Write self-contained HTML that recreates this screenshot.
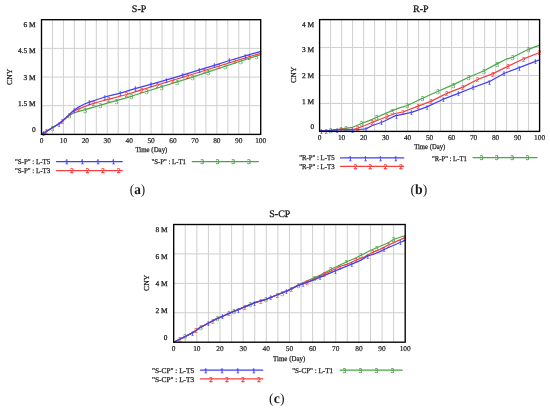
<!DOCTYPE html>
<html><head><meta charset="utf-8"><title>Figure</title>
<style>
html,body{margin:0;padding:0;background:#fff;}
body{width:550px;height:410px;overflow:hidden;}
svg{display:block;font-family:'Liberation Serif', 'Times New Roman', serif;text-rendering:geometricPrecision;}
</style></head>
<body>
<svg width="550" height="410" viewBox="0 0 550 410">
<rect width="550" height="410" fill="#fff"/>
<line x1="52.46" y1="19.7" x2="52.46" y2="134.4" stroke="#cfcfcf" stroke-width="1"/>
<line x1="63.42" y1="19.7" x2="63.42" y2="134.4" stroke="#cfcfcf" stroke-width="1"/>
<line x1="74.38" y1="19.7" x2="74.38" y2="134.4" stroke="#cfcfcf" stroke-width="1"/>
<line x1="85.34" y1="19.7" x2="85.34" y2="134.4" stroke="#cfcfcf" stroke-width="1"/>
<line x1="96.3" y1="19.7" x2="96.3" y2="134.4" stroke="#cfcfcf" stroke-width="1"/>
<line x1="107.26" y1="19.7" x2="107.26" y2="134.4" stroke="#cfcfcf" stroke-width="1"/>
<line x1="118.22" y1="19.7" x2="118.22" y2="134.4" stroke="#cfcfcf" stroke-width="1"/>
<line x1="129.18" y1="19.7" x2="129.18" y2="134.4" stroke="#cfcfcf" stroke-width="1"/>
<line x1="140.14" y1="19.7" x2="140.14" y2="134.4" stroke="#cfcfcf" stroke-width="1"/>
<line x1="151.1" y1="19.7" x2="151.1" y2="134.4" stroke="#cfcfcf" stroke-width="1"/>
<line x1="162.06" y1="19.7" x2="162.06" y2="134.4" stroke="#cfcfcf" stroke-width="1"/>
<line x1="173.02" y1="19.7" x2="173.02" y2="134.4" stroke="#cfcfcf" stroke-width="1"/>
<line x1="183.98" y1="19.7" x2="183.98" y2="134.4" stroke="#cfcfcf" stroke-width="1"/>
<line x1="194.94" y1="19.7" x2="194.94" y2="134.4" stroke="#cfcfcf" stroke-width="1"/>
<line x1="205.9" y1="19.7" x2="205.9" y2="134.4" stroke="#cfcfcf" stroke-width="1"/>
<line x1="216.86" y1="19.7" x2="216.86" y2="134.4" stroke="#cfcfcf" stroke-width="1"/>
<line x1="227.82" y1="19.7" x2="227.82" y2="134.4" stroke="#cfcfcf" stroke-width="1"/>
<line x1="238.78" y1="19.7" x2="238.78" y2="134.4" stroke="#cfcfcf" stroke-width="1"/>
<line x1="249.74" y1="19.7" x2="249.74" y2="134.4" stroke="#cfcfcf" stroke-width="1"/>
<line x1="41.5" y1="48.38" x2="260.7" y2="48.38" stroke="#cfcfcf" stroke-width="1"/>
<line x1="41.5" y1="77.05" x2="260.7" y2="77.05" stroke="#cfcfcf" stroke-width="1"/>
<line x1="41.5" y1="105.73" x2="260.7" y2="105.73" stroke="#cfcfcf" stroke-width="1"/>
<polyline points="41.5,134.4 52.7,127.5 59.1,123.7 65.5,118.5 70,115 75.6,112.3 79.4,111.2 85.2,109.7 92.1,107.6 99.8,105.3 110,102.4 116.4,100.7 131.4,96.4 135,95 190,77.9 260.9,54.6" fill="none" stroke="#48a848" stroke-width="1.25" stroke-linejoin="round" stroke-linecap="round"/>
<text x="52.4" y="130.58" font-size="7" fill="#48a848" stroke="#48a848" stroke-width="0.16" text-anchor="middle">3</text>
<text x="69.4" y="118.37" font-size="7" fill="#48a848" stroke="#48a848" stroke-width="0.16" text-anchor="middle">3</text>
<text x="85.3" y="112.57" font-size="7" fill="#48a848" stroke="#48a848" stroke-width="0.16" text-anchor="middle">3</text>
<text x="100.4" y="108.03" font-size="7" fill="#48a848" stroke="#48a848" stroke-width="0.16" text-anchor="middle">3</text>
<text x="116.4" y="103.6" font-size="7" fill="#48a848" stroke="#48a848" stroke-width="0.16" text-anchor="middle">3</text>
<text x="131.4" y="99.3" font-size="7" fill="#48a848" stroke="#48a848" stroke-width="0.16" text-anchor="middle">3</text>
<text x="146.7" y="94.26" font-size="7" fill="#48a848" stroke="#48a848" stroke-width="0.16" text-anchor="middle">3</text>
<text x="161.8" y="89.57" font-size="7" fill="#48a848" stroke="#48a848" stroke-width="0.16" text-anchor="middle">3</text>
<text x="177.3" y="84.75" font-size="7" fill="#48a848" stroke="#48a848" stroke-width="0.16" text-anchor="middle">3</text>
<text x="192.8" y="79.88" font-size="7" fill="#48a848" stroke="#48a848" stroke-width="0.16" text-anchor="middle">3</text>
<text x="208.2" y="74.82" font-size="7" fill="#48a848" stroke="#48a848" stroke-width="0.16" text-anchor="middle">3</text>
<text x="225.3" y="69.2" font-size="7" fill="#48a848" stroke="#48a848" stroke-width="0.16" text-anchor="middle">3</text>
<text x="240.9" y="64.07" font-size="7" fill="#48a848" stroke="#48a848" stroke-width="0.16" text-anchor="middle">3</text>
<text x="256.5" y="58.95" font-size="7" fill="#48a848" stroke="#48a848" stroke-width="0.16" text-anchor="middle">3</text>
<polyline points="41.5,134.4 52.7,127.5 59.1,123.7 65.5,118.3 72.5,111.6 78.2,109.1 83.8,106.8 88.3,105.2 93.5,103.4 100,101.5 110,98.9 126.8,94.5 135,91.8 190,75 260.9,53.2" fill="none" stroke="#f44040" stroke-width="1.25" stroke-linejoin="round" stroke-linecap="round"/>
<text x="46.5" y="134.22" font-size="7" fill="#f44040" stroke="#f44040" stroke-width="0.16" text-anchor="middle">2</text>
<text x="62.5" y="123.73" font-size="7" fill="#f44040" stroke="#f44040" stroke-width="0.16" text-anchor="middle">2</text>
<text x="78.5" y="111.88" font-size="7" fill="#f44040" stroke="#f44040" stroke-width="0.16" text-anchor="middle">2</text>
<text x="93.8" y="106.21" font-size="7" fill="#f44040" stroke="#f44040" stroke-width="0.16" text-anchor="middle">2</text>
<text x="109.1" y="102.03" font-size="7" fill="#f44040" stroke="#f44040" stroke-width="0.16" text-anchor="middle">2</text>
<text x="126.6" y="97.45" font-size="7" fill="#f44040" stroke="#f44040" stroke-width="0.16" text-anchor="middle">2</text>
<text x="141.9" y="92.59" font-size="7" fill="#f44040" stroke="#f44040" stroke-width="0.16" text-anchor="middle">2</text>
<text x="157.5" y="87.83" font-size="7" fill="#f44040" stroke="#f44040" stroke-width="0.16" text-anchor="middle">2</text>
<text x="172.9" y="83.12" font-size="7" fill="#f44040" stroke="#f44040" stroke-width="0.16" text-anchor="middle">2</text>
<text x="187.7" y="78.6" font-size="7" fill="#f44040" stroke="#f44040" stroke-width="0.16" text-anchor="middle">2</text>
<text x="204.3" y="73.5" font-size="7" fill="#f44040" stroke="#f44040" stroke-width="0.16" text-anchor="middle">2</text>
<text x="219.1" y="68.95" font-size="7" fill="#f44040" stroke="#f44040" stroke-width="0.16" text-anchor="middle">2</text>
<text x="234.4" y="64.25" font-size="7" fill="#f44040" stroke="#f44040" stroke-width="0.16" text-anchor="middle">2</text>
<text x="249.6" y="59.57" font-size="7" fill="#f44040" stroke="#f44040" stroke-width="0.16" text-anchor="middle">2</text>
<polyline points="41.5,134.4 52.7,127.5 59.1,123.7 65.5,118.3 73.1,111 78.2,107.2 84.5,104 89.6,102.1 97.3,99.5 104.9,97 110,95.7 120.5,93.2 135,88.6 150.9,84.3 166.6,79.8 183.4,74.8 199.5,69.9 214.4,65.3 229.6,60.5 245.3,55.8 260.9,51.3" fill="none" stroke="#4040f2" stroke-width="1.25" stroke-linejoin="round" stroke-linecap="round"/>
<text x="43.6" y="136.01" font-size="7" fill="#4040f2" stroke="#4040f2" stroke-width="0.16" text-anchor="middle">1</text>
<text x="58.9" y="126.72" font-size="7" fill="#4040f2" stroke="#4040f2" stroke-width="0.16" text-anchor="middle">1</text>
<text x="74.2" y="113.08" font-size="7" fill="#4040f2" stroke="#4040f2" stroke-width="0.16" text-anchor="middle">1</text>
<text x="89.5" y="105.04" font-size="7" fill="#4040f2" stroke="#4040f2" stroke-width="0.16" text-anchor="middle">1</text>
<text x="104.7" y="99.97" font-size="7" fill="#4040f2" stroke="#4040f2" stroke-width="0.16" text-anchor="middle">1</text>
<text x="120.3" y="96.15" font-size="7" fill="#4040f2" stroke="#4040f2" stroke-width="0.16" text-anchor="middle">1</text>
<text x="135.4" y="91.39" font-size="7" fill="#4040f2" stroke="#4040f2" stroke-width="0.16" text-anchor="middle">1</text>
<text x="150.9" y="87.2" font-size="7" fill="#4040f2" stroke="#4040f2" stroke-width="0.16" text-anchor="middle">1</text>
<text x="166.6" y="82.7" font-size="7" fill="#4040f2" stroke="#4040f2" stroke-width="0.16" text-anchor="middle">1</text>
<text x="182.8" y="77.88" font-size="7" fill="#4040f2" stroke="#4040f2" stroke-width="0.16" text-anchor="middle">1</text>
<text x="199.5" y="72.8" font-size="7" fill="#4040f2" stroke="#4040f2" stroke-width="0.16" text-anchor="middle">1</text>
<text x="214.4" y="68.2" font-size="7" fill="#4040f2" stroke="#4040f2" stroke-width="0.16" text-anchor="middle">1</text>
<text x="229.6" y="63.4" font-size="7" fill="#4040f2" stroke="#4040f2" stroke-width="0.16" text-anchor="middle">1</text>
<text x="245.3" y="58.7" font-size="7" fill="#4040f2" stroke="#4040f2" stroke-width="0.16" text-anchor="middle">1</text>
<rect x="41.5" y="19.7" width="219.2" height="114.7" fill="none" stroke="#000" stroke-width="1.35"/>
<text x="139.1" y="12" font-size="10" text-anchor="middle" fill="#1a1a1a" stroke="#1a1a1a" stroke-width="0.3">S-P</text>
<text x="35.6" y="26.8" font-size="7.4" text-anchor="end" fill="#1a1a1a" stroke="#1a1a1a" stroke-width="0.25">6 M</text>
<text x="35.6" y="53.4" font-size="7.4" text-anchor="end" fill="#1a1a1a" stroke="#1a1a1a" stroke-width="0.25">4.5 M</text>
<text x="35.6" y="79.8" font-size="7.4" text-anchor="end" fill="#1a1a1a" stroke="#1a1a1a" stroke-width="0.25">3 M</text>
<text x="35.6" y="105.9" font-size="7.4" text-anchor="end" fill="#1a1a1a" stroke="#1a1a1a" stroke-width="0.25">1.5 M</text>
<text x="35.6" y="132.3" font-size="7.4" text-anchor="end" fill="#1a1a1a" stroke="#1a1a1a" stroke-width="0.25">0</text>
<text x="0" y="0" font-size="7.6" text-anchor="middle" fill="#1a1a1a" stroke="#1a1a1a" stroke-width="0.25" transform="translate(11.6,76.9) rotate(-90)">CNY</text>
<text x="41.5" y="143.1" font-size="7.4" text-anchor="middle" fill="#1a1a1a" stroke="#1a1a1a" stroke-width="0.2">0</text>
<text x="63.42" y="143.1" font-size="7.4" text-anchor="middle" fill="#1a1a1a" stroke="#1a1a1a" stroke-width="0.2">10</text>
<text x="85.34" y="143.1" font-size="7.4" text-anchor="middle" fill="#1a1a1a" stroke="#1a1a1a" stroke-width="0.2">20</text>
<text x="107.26" y="143.1" font-size="7.4" text-anchor="middle" fill="#1a1a1a" stroke="#1a1a1a" stroke-width="0.2">30</text>
<text x="129.18" y="143.1" font-size="7.4" text-anchor="middle" fill="#1a1a1a" stroke="#1a1a1a" stroke-width="0.2">40</text>
<text x="151.1" y="143.1" font-size="7.4" text-anchor="middle" fill="#1a1a1a" stroke="#1a1a1a" stroke-width="0.2">50</text>
<text x="173.02" y="143.1" font-size="7.4" text-anchor="middle" fill="#1a1a1a" stroke="#1a1a1a" stroke-width="0.2">60</text>
<text x="194.94" y="143.1" font-size="7.4" text-anchor="middle" fill="#1a1a1a" stroke="#1a1a1a" stroke-width="0.2">70</text>
<text x="216.86" y="143.1" font-size="7.4" text-anchor="middle" fill="#1a1a1a" stroke="#1a1a1a" stroke-width="0.2">80</text>
<text x="238.78" y="143.1" font-size="7.4" text-anchor="middle" fill="#1a1a1a" stroke="#1a1a1a" stroke-width="0.2">90</text>
<text x="260.7" y="143.1" font-size="7.4" text-anchor="middle" fill="#1a1a1a" stroke="#1a1a1a" stroke-width="0.2">100</text>
<text x="151.4" y="152.4" font-size="7.4" text-anchor="middle" fill="#1a1a1a" textLength="32" lengthAdjust="spacingAndGlyphs" stroke="#1a1a1a" stroke-width="0.25">Time (Day)</text>
<text x="14.9" y="163.8" font-size="7.3" text-anchor="start" fill="#1a1a1a" textLength="35.4" lengthAdjust="spacingAndGlyphs" stroke="#1a1a1a" stroke-width="0.25">"S-P" : L-T5</text>
<text x="14.9" y="172.7" font-size="7.3" text-anchor="start" fill="#1a1a1a" textLength="35.4" lengthAdjust="spacingAndGlyphs" stroke="#1a1a1a" stroke-width="0.25">"S-P" : L-T3</text>
<text x="151.5" y="163.8" font-size="7.3" text-anchor="start" fill="#1a1a1a" textLength="34.4" lengthAdjust="spacingAndGlyphs" stroke="#1a1a1a" stroke-width="0.25">"S-P" : L-T1</text>
<polyline points="56.5,161.5 122.3,161.5" fill="none" stroke="#4040f2" stroke-width="1.25" stroke-linejoin="round" stroke-linecap="round"/>
<text x="66.7" y="164.1" font-size="7" fill="#4040f2" stroke="#4040f2" stroke-width="0.32" text-anchor="middle">1</text>
<text x="82.3" y="164.1" font-size="7" fill="#4040f2" stroke="#4040f2" stroke-width="0.32" text-anchor="middle">1</text>
<text x="98" y="164.1" font-size="7" fill="#4040f2" stroke="#4040f2" stroke-width="0.32" text-anchor="middle">1</text>
<text x="113.6" y="164.1" font-size="7" fill="#4040f2" stroke="#4040f2" stroke-width="0.32" text-anchor="middle">1</text>
<polyline points="56.5,170.5 122.3,170.5" fill="none" stroke="#f44040" stroke-width="1.25" stroke-linejoin="round" stroke-linecap="round"/>
<text x="72.1" y="173.1" font-size="7" fill="#f44040" stroke="#f44040" stroke-width="0.32" text-anchor="middle">2</text>
<text x="87.5" y="173.1" font-size="7" fill="#f44040" stroke="#f44040" stroke-width="0.32" text-anchor="middle">2</text>
<text x="103.1" y="173.1" font-size="7" fill="#f44040" stroke="#f44040" stroke-width="0.32" text-anchor="middle">2</text>
<text x="118.7" y="173.1" font-size="7" fill="#f44040" stroke="#f44040" stroke-width="0.32" text-anchor="middle">2</text>
<polyline points="192.3,161.6 258.5,161.6" fill="none" stroke="#48a848" stroke-width="1.25" stroke-linejoin="round" stroke-linecap="round"/>
<text x="202.2" y="164.2" font-size="7" fill="#48a848" stroke="#48a848" stroke-width="0.32" text-anchor="middle">3</text>
<text x="217.4" y="164.2" font-size="7" fill="#48a848" stroke="#48a848" stroke-width="0.32" text-anchor="middle">3</text>
<text x="233.3" y="164.2" font-size="7" fill="#48a848" stroke="#48a848" stroke-width="0.32" text-anchor="middle">3</text>
<text x="249" y="164.2" font-size="7" fill="#48a848" stroke="#48a848" stroke-width="0.32" text-anchor="middle">3</text>
<text x="137.5" y="193.6" font-size="14.2" text-anchor="middle" fill="#1a1a1a" textLength="15.5" lengthAdjust="spacingAndGlyphs">(<tspan font-weight="bold">a</tspan>)</text>
<line x1="330.6" y1="19.6" x2="330.6" y2="131.4" stroke="#cfcfcf" stroke-width="1"/>
<line x1="341.6" y1="19.6" x2="341.6" y2="131.4" stroke="#cfcfcf" stroke-width="1"/>
<line x1="352.6" y1="19.6" x2="352.6" y2="131.4" stroke="#cfcfcf" stroke-width="1"/>
<line x1="363.6" y1="19.6" x2="363.6" y2="131.4" stroke="#cfcfcf" stroke-width="1"/>
<line x1="374.6" y1="19.6" x2="374.6" y2="131.4" stroke="#cfcfcf" stroke-width="1"/>
<line x1="385.6" y1="19.6" x2="385.6" y2="131.4" stroke="#cfcfcf" stroke-width="1"/>
<line x1="396.6" y1="19.6" x2="396.6" y2="131.4" stroke="#cfcfcf" stroke-width="1"/>
<line x1="407.6" y1="19.6" x2="407.6" y2="131.4" stroke="#cfcfcf" stroke-width="1"/>
<line x1="418.6" y1="19.6" x2="418.6" y2="131.4" stroke="#cfcfcf" stroke-width="1"/>
<line x1="429.6" y1="19.6" x2="429.6" y2="131.4" stroke="#cfcfcf" stroke-width="1"/>
<line x1="440.6" y1="19.6" x2="440.6" y2="131.4" stroke="#cfcfcf" stroke-width="1"/>
<line x1="451.6" y1="19.6" x2="451.6" y2="131.4" stroke="#cfcfcf" stroke-width="1"/>
<line x1="462.6" y1="19.6" x2="462.6" y2="131.4" stroke="#cfcfcf" stroke-width="1"/>
<line x1="473.6" y1="19.6" x2="473.6" y2="131.4" stroke="#cfcfcf" stroke-width="1"/>
<line x1="484.6" y1="19.6" x2="484.6" y2="131.4" stroke="#cfcfcf" stroke-width="1"/>
<line x1="495.6" y1="19.6" x2="495.6" y2="131.4" stroke="#cfcfcf" stroke-width="1"/>
<line x1="506.6" y1="19.6" x2="506.6" y2="131.4" stroke="#cfcfcf" stroke-width="1"/>
<line x1="517.6" y1="19.6" x2="517.6" y2="131.4" stroke="#cfcfcf" stroke-width="1"/>
<line x1="528.6" y1="19.6" x2="528.6" y2="131.4" stroke="#cfcfcf" stroke-width="1"/>
<line x1="319.6" y1="47.55" x2="539.6" y2="47.55" stroke="#cfcfcf" stroke-width="1"/>
<line x1="319.6" y1="75.5" x2="539.6" y2="75.5" stroke="#cfcfcf" stroke-width="1"/>
<line x1="319.6" y1="103.45" x2="539.6" y2="103.45" stroke="#cfcfcf" stroke-width="1"/>
<polyline points="319.6,131.2 330,130.6 337,129.5 345,128.3 352.7,127.3 361.4,123.5 368.6,120.9 376.8,117.3 385,113.6 392.3,110.7 398,108.4 407.3,105.5 422.5,98.2 438,91.2 453.4,84.6 468.7,77.3 484.1,70.7 497.3,63.6 506.1,59.2 512.7,57.3 528.4,49.3 539.6,45.2" fill="none" stroke="#48a848" stroke-width="1.25" stroke-linejoin="round" stroke-linecap="round"/>
<text x="330.7" y="133.39" font-size="7" fill="#48a848" stroke="#48a848" stroke-width="0.16" text-anchor="middle">3</text>
<text x="346" y="131.07" font-size="7" fill="#48a848" stroke="#48a848" stroke-width="0.16" text-anchor="middle">3</text>
<text x="361.4" y="126.4" font-size="7" fill="#48a848" stroke="#48a848" stroke-width="0.16" text-anchor="middle">3</text>
<text x="376.8" y="120.2" font-size="7" fill="#48a848" stroke="#48a848" stroke-width="0.16" text-anchor="middle">3</text>
<text x="392.3" y="113.6" font-size="7" fill="#48a848" stroke="#48a848" stroke-width="0.16" text-anchor="middle">3</text>
<text x="407.3" y="108.4" font-size="7" fill="#48a848" stroke="#48a848" stroke-width="0.16" text-anchor="middle">3</text>
<text x="422.5" y="101.1" font-size="7" fill="#48a848" stroke="#48a848" stroke-width="0.16" text-anchor="middle">3</text>
<text x="438" y="94.1" font-size="7" fill="#48a848" stroke="#48a848" stroke-width="0.16" text-anchor="middle">3</text>
<text x="453.4" y="87.5" font-size="7" fill="#48a848" stroke="#48a848" stroke-width="0.16" text-anchor="middle">3</text>
<text x="468.7" y="80.2" font-size="7" fill="#48a848" stroke="#48a848" stroke-width="0.16" text-anchor="middle">3</text>
<text x="484.1" y="73.6" font-size="7" fill="#48a848" stroke="#48a848" stroke-width="0.16" text-anchor="middle">3</text>
<text x="497.3" y="66.5" font-size="7" fill="#48a848" stroke="#48a848" stroke-width="0.16" text-anchor="middle">3</text>
<text x="512.7" y="60.2" font-size="7" fill="#48a848" stroke="#48a848" stroke-width="0.16" text-anchor="middle">3</text>
<text x="528.4" y="52.2" font-size="7" fill="#48a848" stroke="#48a848" stroke-width="0.16" text-anchor="middle">3</text>
<polyline points="319.6,131.2 326,131.2 335,130 341.2,129.2 352.7,129.5 357.7,128.2 365,125.5 372.3,122.3 379.5,119.5 387.3,116.5 395,113.5 402.9,112 418.2,106.2 431.3,101.1 446.8,93.4 462.9,87.1 477.5,79.5 492.9,73.6 508.3,66.1 523.7,58.8 539.6,52.5" fill="none" stroke="#f44040" stroke-width="1.25" stroke-linejoin="round" stroke-linecap="round"/>
<text x="326.2" y="134.07" font-size="7" fill="#f44040" stroke="#f44040" stroke-width="0.16" text-anchor="middle">2</text>
<text x="341.2" y="132.1" font-size="7" fill="#f44040" stroke="#f44040" stroke-width="0.16" text-anchor="middle">2</text>
<text x="357.7" y="131.1" font-size="7" fill="#f44040" stroke="#f44040" stroke-width="0.16" text-anchor="middle">2</text>
<text x="372.3" y="125.2" font-size="7" fill="#f44040" stroke="#f44040" stroke-width="0.16" text-anchor="middle">2</text>
<text x="387.3" y="119.4" font-size="7" fill="#f44040" stroke="#f44040" stroke-width="0.16" text-anchor="middle">2</text>
<text x="402.9" y="114.9" font-size="7" fill="#f44040" stroke="#f44040" stroke-width="0.16" text-anchor="middle">2</text>
<text x="418.2" y="109.1" font-size="7" fill="#f44040" stroke="#f44040" stroke-width="0.16" text-anchor="middle">2</text>
<text x="431.3" y="104" font-size="7" fill="#f44040" stroke="#f44040" stroke-width="0.16" text-anchor="middle">2</text>
<text x="446.8" y="96.3" font-size="7" fill="#f44040" stroke="#f44040" stroke-width="0.16" text-anchor="middle">2</text>
<text x="462.9" y="90" font-size="7" fill="#f44040" stroke="#f44040" stroke-width="0.16" text-anchor="middle">2</text>
<text x="477.5" y="82.4" font-size="7" fill="#f44040" stroke="#f44040" stroke-width="0.16" text-anchor="middle">2</text>
<text x="492.9" y="76.5" font-size="7" fill="#f44040" stroke="#f44040" stroke-width="0.16" text-anchor="middle">2</text>
<text x="508.3" y="69" font-size="7" fill="#f44040" stroke="#f44040" stroke-width="0.16" text-anchor="middle">2</text>
<text x="523.7" y="61.7" font-size="7" fill="#f44040" stroke="#f44040" stroke-width="0.16" text-anchor="middle">2</text>
<text x="539.5" y="55.44" font-size="7" fill="#f44040" stroke="#f44040" stroke-width="0.16" text-anchor="middle">2</text>
<polyline points="319.6,131.2 337.1,129.8 352.7,130 358.6,129.5 365.9,128.9 372.3,125.5 381.4,122.5 387.7,119.5 395,115.9 411.6,112.3 426.9,106.9 443.2,99.2 458.5,93.4 473.1,87.5 489.2,81.7 503.9,73.5 519.3,67.6 535.4,61.3 539.6,59.8" fill="none" stroke="#4040f2" stroke-width="1.25" stroke-linejoin="round" stroke-linecap="round"/>
<text x="321.6" y="133.94" font-size="7" fill="#4040f2" stroke="#4040f2" stroke-width="0.16" text-anchor="middle">1</text>
<text x="337.1" y="132.7" font-size="7" fill="#4040f2" stroke="#4040f2" stroke-width="0.16" text-anchor="middle">1</text>
<text x="352.5" y="132.9" font-size="7" fill="#4040f2" stroke="#4040f2" stroke-width="0.16" text-anchor="middle">1</text>
<text x="365.9" y="131.8" font-size="7" fill="#4040f2" stroke="#4040f2" stroke-width="0.16" text-anchor="middle">1</text>
<text x="381.4" y="125.4" font-size="7" fill="#4040f2" stroke="#4040f2" stroke-width="0.16" text-anchor="middle">1</text>
<text x="396.4" y="118.5" font-size="7" fill="#4040f2" stroke="#4040f2" stroke-width="0.16" text-anchor="middle">1</text>
<text x="411.6" y="115.2" font-size="7" fill="#4040f2" stroke="#4040f2" stroke-width="0.16" text-anchor="middle">1</text>
<text x="426.9" y="109.8" font-size="7" fill="#4040f2" stroke="#4040f2" stroke-width="0.16" text-anchor="middle">1</text>
<text x="443.2" y="102.1" font-size="7" fill="#4040f2" stroke="#4040f2" stroke-width="0.16" text-anchor="middle">1</text>
<text x="458.5" y="96.3" font-size="7" fill="#4040f2" stroke="#4040f2" stroke-width="0.16" text-anchor="middle">1</text>
<text x="473.1" y="90.4" font-size="7" fill="#4040f2" stroke="#4040f2" stroke-width="0.16" text-anchor="middle">1</text>
<text x="489.2" y="84.6" font-size="7" fill="#4040f2" stroke="#4040f2" stroke-width="0.16" text-anchor="middle">1</text>
<text x="503.9" y="76.4" font-size="7" fill="#4040f2" stroke="#4040f2" stroke-width="0.16" text-anchor="middle">1</text>
<text x="519.3" y="70.5" font-size="7" fill="#4040f2" stroke="#4040f2" stroke-width="0.16" text-anchor="middle">1</text>
<text x="535.4" y="64.2" font-size="7" fill="#4040f2" stroke="#4040f2" stroke-width="0.16" text-anchor="middle">1</text>
<rect x="319.6" y="19.6" width="220" height="111.8" fill="none" stroke="#000" stroke-width="1.35"/>
<text x="420.9" y="11.7" font-size="10" text-anchor="middle" fill="#1a1a1a" stroke="#1a1a1a" stroke-width="0.3">R-P</text>
<text x="314.2" y="26.8" font-size="7.4" text-anchor="end" fill="#1a1a1a" stroke="#1a1a1a" stroke-width="0.25">4 M</text>
<text x="314.2" y="52.3" font-size="7.4" text-anchor="end" fill="#1a1a1a" stroke="#1a1a1a" stroke-width="0.25">3 M</text>
<text x="314.2" y="77.9" font-size="7.4" text-anchor="end" fill="#1a1a1a" stroke="#1a1a1a" stroke-width="0.25">2 M</text>
<text x="314.2" y="103.7" font-size="7.4" text-anchor="end" fill="#1a1a1a" stroke="#1a1a1a" stroke-width="0.25">1 M</text>
<text x="314.2" y="129.3" font-size="7.4" text-anchor="end" fill="#1a1a1a" stroke="#1a1a1a" stroke-width="0.25">0</text>
<text x="0" y="0" font-size="7.6" text-anchor="middle" fill="#1a1a1a" stroke="#1a1a1a" stroke-width="0.25" transform="translate(296.4,74.9) rotate(-90)">CNY</text>
<text x="319.6" y="139.7" font-size="7.4" text-anchor="middle" fill="#1a1a1a" stroke="#1a1a1a" stroke-width="0.2">0</text>
<text x="341.6" y="139.7" font-size="7.4" text-anchor="middle" fill="#1a1a1a" stroke="#1a1a1a" stroke-width="0.2">10</text>
<text x="363.6" y="139.7" font-size="7.4" text-anchor="middle" fill="#1a1a1a" stroke="#1a1a1a" stroke-width="0.2">20</text>
<text x="385.6" y="139.7" font-size="7.4" text-anchor="middle" fill="#1a1a1a" stroke="#1a1a1a" stroke-width="0.2">30</text>
<text x="407.6" y="139.7" font-size="7.4" text-anchor="middle" fill="#1a1a1a" stroke="#1a1a1a" stroke-width="0.2">40</text>
<text x="429.6" y="139.7" font-size="7.4" text-anchor="middle" fill="#1a1a1a" stroke="#1a1a1a" stroke-width="0.2">50</text>
<text x="451.6" y="139.7" font-size="7.4" text-anchor="middle" fill="#1a1a1a" stroke="#1a1a1a" stroke-width="0.2">60</text>
<text x="473.6" y="139.7" font-size="7.4" text-anchor="middle" fill="#1a1a1a" stroke="#1a1a1a" stroke-width="0.2">70</text>
<text x="495.6" y="139.7" font-size="7.4" text-anchor="middle" fill="#1a1a1a" stroke="#1a1a1a" stroke-width="0.2">80</text>
<text x="517.6" y="139.7" font-size="7.4" text-anchor="middle" fill="#1a1a1a" stroke="#1a1a1a" stroke-width="0.2">90</text>
<text x="539.6" y="139.7" font-size="7.4" text-anchor="middle" fill="#1a1a1a" stroke="#1a1a1a" stroke-width="0.2">100</text>
<text x="429.7" y="148.9" font-size="7.4" text-anchor="middle" fill="#1a1a1a" textLength="31" lengthAdjust="spacingAndGlyphs" stroke="#1a1a1a" stroke-width="0.25">Time (Day)</text>
<text x="299.2" y="160.2" font-size="7.3" text-anchor="start" fill="#1a1a1a" textLength="35.4" lengthAdjust="spacingAndGlyphs" stroke="#1a1a1a" stroke-width="0.25">"R-P" : L-T5</text>
<text x="299.2" y="169" font-size="7.3" text-anchor="start" fill="#1a1a1a" textLength="35.4" lengthAdjust="spacingAndGlyphs" stroke="#1a1a1a" stroke-width="0.25">"R-P" : L-T3</text>
<text x="432.1" y="160.7" font-size="7.3" text-anchor="start" fill="#1a1a1a" textLength="34.7" lengthAdjust="spacingAndGlyphs" stroke="#1a1a1a" stroke-width="0.25">"R-P" : L-T1</text>
<polyline points="340.5,157.9 403.7,157.9" fill="none" stroke="#4040f2" stroke-width="1.25" stroke-linejoin="round" stroke-linecap="round"/>
<text x="350.3" y="160.5" font-size="7" fill="#4040f2" stroke="#4040f2" stroke-width="0.32" text-anchor="middle">1</text>
<text x="365.5" y="160.5" font-size="7" fill="#4040f2" stroke="#4040f2" stroke-width="0.32" text-anchor="middle">1</text>
<text x="380.5" y="160.5" font-size="7" fill="#4040f2" stroke="#4040f2" stroke-width="0.32" text-anchor="middle">1</text>
<text x="395.8" y="160.5" font-size="7" fill="#4040f2" stroke="#4040f2" stroke-width="0.32" text-anchor="middle">1</text>
<polyline points="340.5,166.3 403.7,166.3" fill="none" stroke="#f44040" stroke-width="1.25" stroke-linejoin="round" stroke-linecap="round"/>
<text x="355.4" y="168.9" font-size="7" fill="#f44040" stroke="#f44040" stroke-width="0.32" text-anchor="middle">2</text>
<text x="370.3" y="168.9" font-size="7" fill="#f44040" stroke="#f44040" stroke-width="0.32" text-anchor="middle">2</text>
<text x="385.5" y="168.9" font-size="7" fill="#f44040" stroke="#f44040" stroke-width="0.32" text-anchor="middle">2</text>
<text x="400.9" y="168.9" font-size="7" fill="#f44040" stroke="#f44040" stroke-width="0.32" text-anchor="middle">2</text>
<polyline points="473,157.5 537,157.5" fill="none" stroke="#48a848" stroke-width="1.25" stroke-linejoin="round" stroke-linecap="round"/>
<text x="481.5" y="160.1" font-size="7" fill="#48a848" stroke="#48a848" stroke-width="0.32" text-anchor="middle">3</text>
<text x="496.8" y="160.1" font-size="7" fill="#48a848" stroke="#48a848" stroke-width="0.32" text-anchor="middle">3</text>
<text x="512.2" y="160.1" font-size="7" fill="#48a848" stroke="#48a848" stroke-width="0.32" text-anchor="middle">3</text>
<text x="527.6" y="160.1" font-size="7" fill="#48a848" stroke="#48a848" stroke-width="0.32" text-anchor="middle">3</text>
<text x="418.9" y="193.6" font-size="14.2" text-anchor="middle" fill="#1a1a1a" textLength="16.8" lengthAdjust="spacingAndGlyphs">(<tspan font-weight="bold">b</tspan>)</text>
<line x1="185.27" y1="224.5" x2="185.27" y2="342.2" stroke="#cfcfcf" stroke-width="1"/>
<line x1="196.85" y1="224.5" x2="196.85" y2="342.2" stroke="#cfcfcf" stroke-width="1"/>
<line x1="208.42" y1="224.5" x2="208.42" y2="342.2" stroke="#cfcfcf" stroke-width="1"/>
<line x1="220" y1="224.5" x2="220" y2="342.2" stroke="#cfcfcf" stroke-width="1"/>
<line x1="231.57" y1="224.5" x2="231.57" y2="342.2" stroke="#cfcfcf" stroke-width="1"/>
<line x1="243.15" y1="224.5" x2="243.15" y2="342.2" stroke="#cfcfcf" stroke-width="1"/>
<line x1="254.72" y1="224.5" x2="254.72" y2="342.2" stroke="#cfcfcf" stroke-width="1"/>
<line x1="266.3" y1="224.5" x2="266.3" y2="342.2" stroke="#cfcfcf" stroke-width="1"/>
<line x1="277.88" y1="224.5" x2="277.88" y2="342.2" stroke="#cfcfcf" stroke-width="1"/>
<line x1="289.45" y1="224.5" x2="289.45" y2="342.2" stroke="#cfcfcf" stroke-width="1"/>
<line x1="301.02" y1="224.5" x2="301.02" y2="342.2" stroke="#cfcfcf" stroke-width="1"/>
<line x1="312.6" y1="224.5" x2="312.6" y2="342.2" stroke="#cfcfcf" stroke-width="1"/>
<line x1="324.17" y1="224.5" x2="324.17" y2="342.2" stroke="#cfcfcf" stroke-width="1"/>
<line x1="335.75" y1="224.5" x2="335.75" y2="342.2" stroke="#cfcfcf" stroke-width="1"/>
<line x1="347.32" y1="224.5" x2="347.32" y2="342.2" stroke="#cfcfcf" stroke-width="1"/>
<line x1="358.9" y1="224.5" x2="358.9" y2="342.2" stroke="#cfcfcf" stroke-width="1"/>
<line x1="370.48" y1="224.5" x2="370.48" y2="342.2" stroke="#cfcfcf" stroke-width="1"/>
<line x1="382.05" y1="224.5" x2="382.05" y2="342.2" stroke="#cfcfcf" stroke-width="1"/>
<line x1="393.62" y1="224.5" x2="393.62" y2="342.2" stroke="#cfcfcf" stroke-width="1"/>
<line x1="173.7" y1="253.93" x2="405.2" y2="253.93" stroke="#cfcfcf" stroke-width="1"/>
<line x1="173.7" y1="283.35" x2="405.2" y2="283.35" stroke="#cfcfcf" stroke-width="1"/>
<line x1="173.7" y1="312.77" x2="405.2" y2="312.77" stroke="#cfcfcf" stroke-width="1"/>
<polyline points="173.7,342.2 192.4,332.9 200,327.6 208.2,323.3 216.4,318.9 221.8,316.7 228.9,313.4 238.2,309.6 245.8,306.4 255,302.6 265.9,299.4 276.8,295 287.7,290.6 298.6,284.8 310,279.5 321,274.9 331.9,268.7 340,265 347.3,261.5 354.6,258.5 361.2,255.2 369.2,251 379,246.8 387.3,243.2 393.6,239.5 405.2,235.5" fill="none" stroke="#48a848" stroke-width="1.25" stroke-linejoin="round" stroke-linecap="round"/>
<text x="185.1" y="339.43" font-size="7" fill="#48a848" stroke="#48a848" stroke-width="0.16" text-anchor="middle">3</text>
<text x="201.1" y="329.92" font-size="7" fill="#48a848" stroke="#48a848" stroke-width="0.16" text-anchor="middle">3</text>
<text x="217.4" y="321.39" font-size="7" fill="#48a848" stroke="#48a848" stroke-width="0.16" text-anchor="middle">3</text>
<text x="234" y="314.22" font-size="7" fill="#48a848" stroke="#48a848" stroke-width="0.16" text-anchor="middle">3</text>
<text x="250.2" y="307.48" font-size="7" fill="#48a848" stroke="#48a848" stroke-width="0.16" text-anchor="middle">3</text>
<text x="265.9" y="302.3" font-size="7" fill="#48a848" stroke="#48a848" stroke-width="0.16" text-anchor="middle">3</text>
<text x="282.3" y="295.68" font-size="7" fill="#48a848" stroke="#48a848" stroke-width="0.16" text-anchor="middle">3</text>
<text x="298.6" y="287.7" font-size="7" fill="#48a848" stroke="#48a848" stroke-width="0.16" text-anchor="middle">3</text>
<text x="314.4" y="280.56" font-size="7" fill="#48a848" stroke="#48a848" stroke-width="0.16" text-anchor="middle">3</text>
<text x="330.8" y="272.23" font-size="7" fill="#48a848" stroke="#48a848" stroke-width="0.16" text-anchor="middle">3</text>
<text x="346.2" y="264.93" font-size="7" fill="#48a848" stroke="#48a848" stroke-width="0.16" text-anchor="middle">3</text>
<text x="361" y="258.2" font-size="7" fill="#48a848" stroke="#48a848" stroke-width="0.16" text-anchor="middle">3</text>
<text x="376.8" y="250.64" font-size="7" fill="#48a848" stroke="#48a848" stroke-width="0.16" text-anchor="middle">3</text>
<text x="393.6" y="242.4" font-size="7" fill="#48a848" stroke="#48a848" stroke-width="0.16" text-anchor="middle">3</text>
<polyline points="173.7,342.2 192.4,332.9 200,327.6 208.2,323.3 216.4,318.9 221.8,316.7 228.9,313.4 238.2,309.6 245.8,306.4 255,302.6 265.9,299.4 276.8,295 287.7,290.6 298.6,285 310,280.8 324.3,274.2 340,266.5 347.3,264.2 356.1,260 364.1,257.1 372.9,252.3 380,249.4 387.3,245.5 396.4,241.4 405.2,237.7" fill="none" stroke="#f44040" stroke-width="1.25" stroke-linejoin="round" stroke-linecap="round"/>
<text x="180" y="341.97" font-size="7" fill="#f44040" stroke="#f44040" stroke-width="0.16" text-anchor="middle">2</text>
<text x="196" y="333.29" font-size="7" fill="#f44040" stroke="#f44040" stroke-width="0.16" text-anchor="middle">2</text>
<text x="212.9" y="323.68" font-size="7" fill="#f44040" stroke="#f44040" stroke-width="0.16" text-anchor="middle">2</text>
<text x="228.9" y="316.3" font-size="7" fill="#f44040" stroke="#f44040" stroke-width="0.16" text-anchor="middle">2</text>
<text x="244.9" y="309.68" font-size="7" fill="#f44040" stroke="#f44040" stroke-width="0.16" text-anchor="middle">2</text>
<text x="261" y="303.74" font-size="7" fill="#f44040" stroke="#f44040" stroke-width="0.16" text-anchor="middle">2</text>
<text x="277.4" y="297.66" font-size="7" fill="#f44040" stroke="#f44040" stroke-width="0.16" text-anchor="middle">2</text>
<text x="291.5" y="291.55" font-size="7" fill="#f44040" stroke="#f44040" stroke-width="0.16" text-anchor="middle">2</text>
<text x="307.3" y="284.69" font-size="7" fill="#f44040" stroke="#f44040" stroke-width="0.16" text-anchor="middle">2</text>
<text x="324.3" y="277.1" font-size="7" fill="#f44040" stroke="#f44040" stroke-width="0.16" text-anchor="middle">2</text>
<text x="339.6" y="269.6" font-size="7" fill="#f44040" stroke="#f44040" stroke-width="0.16" text-anchor="middle">2</text>
<text x="356.1" y="262.9" font-size="7" fill="#f44040" stroke="#f44040" stroke-width="0.16" text-anchor="middle">2</text>
<text x="372.7" y="255.31" font-size="7" fill="#f44040" stroke="#f44040" stroke-width="0.16" text-anchor="middle">2</text>
<text x="388.5" y="247.86" font-size="7" fill="#f44040" stroke="#f44040" stroke-width="0.16" text-anchor="middle">2</text>
<text x="404.5" y="240.89" font-size="7" fill="#f44040" stroke="#f44040" stroke-width="0.16" text-anchor="middle">2</text>
<polyline points="173.7,342.2 192.4,332.9 200,327.6 208.2,323.3 216.4,318.9 221.8,316.7 228.9,313.4 238.2,309.6 245.8,306.4 255,302.6 265.9,299.4 276.8,295 287.7,290.6 298.6,285.4 310,281.4 319.9,277.3 335.2,270.9 351.7,264.1 360.5,260.4 367.8,256 372.9,254.5 380,251.6 384.1,249.5 400.5,242.3 405.2,240.3" fill="none" stroke="#4040f2" stroke-width="1.25" stroke-linejoin="round" stroke-linecap="round"/>
<text x="192.4" y="335.8" font-size="7" fill="#4040f2" stroke="#4040f2" stroke-width="0.16" text-anchor="middle">1</text>
<text x="208.2" y="326.2" font-size="7" fill="#4040f2" stroke="#4040f2" stroke-width="0.16" text-anchor="middle">1</text>
<text x="222.4" y="319.32" font-size="7" fill="#4040f2" stroke="#4040f2" stroke-width="0.16" text-anchor="middle">1</text>
<text x="238.2" y="312.5" font-size="7" fill="#4040f2" stroke="#4040f2" stroke-width="0.16" text-anchor="middle">1</text>
<text x="254.5" y="305.71" font-size="7" fill="#4040f2" stroke="#4040f2" stroke-width="0.16" text-anchor="middle">1</text>
<text x="270.8" y="300.32" font-size="7" fill="#4040f2" stroke="#4040f2" stroke-width="0.16" text-anchor="middle">1</text>
<text x="286.6" y="293.94" font-size="7" fill="#4040f2" stroke="#4040f2" stroke-width="0.16" text-anchor="middle">1</text>
<text x="303" y="286.76" font-size="7" fill="#4040f2" stroke="#4040f2" stroke-width="0.16" text-anchor="middle">1</text>
<text x="319.9" y="280.2" font-size="7" fill="#4040f2" stroke="#4040f2" stroke-width="0.16" text-anchor="middle">1</text>
<text x="335.2" y="273.8" font-size="7" fill="#4040f2" stroke="#4040f2" stroke-width="0.16" text-anchor="middle">1</text>
<text x="351.7" y="267" font-size="7" fill="#4040f2" stroke="#4040f2" stroke-width="0.16" text-anchor="middle">1</text>
<text x="367.7" y="258.96" font-size="7" fill="#4040f2" stroke="#4040f2" stroke-width="0.16" text-anchor="middle">1</text>
<text x="384.1" y="252.4" font-size="7" fill="#4040f2" stroke="#4040f2" stroke-width="0.16" text-anchor="middle">1</text>
<text x="400.5" y="245.2" font-size="7" fill="#4040f2" stroke="#4040f2" stroke-width="0.16" text-anchor="middle">1</text>
<rect x="173.7" y="224.5" width="231.5" height="117.7" fill="none" stroke="#000" stroke-width="1.35"/>
<text x="279.8" y="216.5" font-size="10" text-anchor="middle" fill="#1a1a1a" stroke="#1a1a1a" stroke-width="0.3">S-CP</text>
<text x="167.5" y="231.6" font-size="7.4" text-anchor="end" fill="#1a1a1a" stroke="#1a1a1a" stroke-width="0.25">8 M</text>
<text x="167.5" y="258.9" font-size="7.4" text-anchor="end" fill="#1a1a1a" stroke="#1a1a1a" stroke-width="0.25">6 M</text>
<text x="167.5" y="286" font-size="7.4" text-anchor="end" fill="#1a1a1a" stroke="#1a1a1a" stroke-width="0.25">4 M</text>
<text x="167.5" y="313.2" font-size="7.4" text-anchor="end" fill="#1a1a1a" stroke="#1a1a1a" stroke-width="0.25">2 M</text>
<text x="167.5" y="340.2" font-size="7.4" text-anchor="end" fill="#1a1a1a" stroke="#1a1a1a" stroke-width="0.25">0</text>
<text x="0" y="0" font-size="7.6" text-anchor="middle" fill="#1a1a1a" stroke="#1a1a1a" stroke-width="0.25" transform="translate(148.7,282.9) rotate(-90)">CNY</text>
<text x="173.7" y="350.9" font-size="7.4" text-anchor="middle" fill="#1a1a1a" stroke="#1a1a1a" stroke-width="0.2">0</text>
<text x="196.85" y="350.9" font-size="7.4" text-anchor="middle" fill="#1a1a1a" stroke="#1a1a1a" stroke-width="0.2">10</text>
<text x="220" y="350.9" font-size="7.4" text-anchor="middle" fill="#1a1a1a" stroke="#1a1a1a" stroke-width="0.2">20</text>
<text x="243.15" y="350.9" font-size="7.4" text-anchor="middle" fill="#1a1a1a" stroke="#1a1a1a" stroke-width="0.2">30</text>
<text x="266.3" y="350.9" font-size="7.4" text-anchor="middle" fill="#1a1a1a" stroke="#1a1a1a" stroke-width="0.2">40</text>
<text x="289.45" y="350.9" font-size="7.4" text-anchor="middle" fill="#1a1a1a" stroke="#1a1a1a" stroke-width="0.2">50</text>
<text x="312.6" y="350.9" font-size="7.4" text-anchor="middle" fill="#1a1a1a" stroke="#1a1a1a" stroke-width="0.2">60</text>
<text x="335.75" y="350.9" font-size="7.4" text-anchor="middle" fill="#1a1a1a" stroke="#1a1a1a" stroke-width="0.2">70</text>
<text x="358.9" y="350.9" font-size="7.4" text-anchor="middle" fill="#1a1a1a" stroke="#1a1a1a" stroke-width="0.2">80</text>
<text x="382.05" y="350.9" font-size="7.4" text-anchor="middle" fill="#1a1a1a" stroke="#1a1a1a" stroke-width="0.2">90</text>
<text x="405.2" y="350.9" font-size="7.4" text-anchor="middle" fill="#1a1a1a" stroke="#1a1a1a" stroke-width="0.2">100</text>
<text x="289.2" y="360.7" font-size="7.4" text-anchor="middle" fill="#1a1a1a" textLength="32.2" lengthAdjust="spacingAndGlyphs" stroke="#1a1a1a" stroke-width="0.25">Time (Day)</text>
<text x="152" y="372.8" font-size="7.3" text-anchor="start" fill="#1a1a1a" textLength="42.2" lengthAdjust="spacingAndGlyphs" stroke="#1a1a1a" stroke-width="0.25">"S-CP" : L-T5</text>
<text x="152" y="381.5" font-size="7.3" text-anchor="start" fill="#1a1a1a" textLength="42.2" lengthAdjust="spacingAndGlyphs" stroke="#1a1a1a" stroke-width="0.25">"S-CP" : L-T3</text>
<text x="292.2" y="372.9" font-size="7.3" text-anchor="start" fill="#1a1a1a" textLength="40.9" lengthAdjust="spacingAndGlyphs" stroke="#1a1a1a" stroke-width="0.25">"S-CP" : L-T1</text>
<polyline points="200.5,370.2 262.7,370.2" fill="none" stroke="#4040f2" stroke-width="1.25" stroke-linejoin="round" stroke-linecap="round"/>
<text x="205.7" y="372.8" font-size="7" fill="#4040f2" stroke="#4040f2" stroke-width="0.32" text-anchor="middle">1</text>
<text x="222" y="372.8" font-size="7" fill="#4040f2" stroke="#4040f2" stroke-width="0.32" text-anchor="middle">1</text>
<text x="237.7" y="372.8" font-size="7" fill="#4040f2" stroke="#4040f2" stroke-width="0.32" text-anchor="middle">1</text>
<text x="253.7" y="372.8" font-size="7" fill="#4040f2" stroke="#4040f2" stroke-width="0.32" text-anchor="middle">1</text>
<polyline points="200.5,378.9 262.7,378.9" fill="none" stroke="#f44040" stroke-width="1.25" stroke-linejoin="round" stroke-linecap="round"/>
<text x="211.1" y="381.5" font-size="7" fill="#f44040" stroke="#f44040" stroke-width="0.32" text-anchor="middle">2</text>
<text x="227.1" y="381.5" font-size="7" fill="#f44040" stroke="#f44040" stroke-width="0.32" text-anchor="middle">2</text>
<text x="243.1" y="381.5" font-size="7" fill="#f44040" stroke="#f44040" stroke-width="0.32" text-anchor="middle">2</text>
<text x="259.1" y="381.5" font-size="7" fill="#f44040" stroke="#f44040" stroke-width="0.32" text-anchor="middle">2</text>
<polyline points="340.1,370.2 402.2,370.2" fill="none" stroke="#48a848" stroke-width="1.25" stroke-linejoin="round" stroke-linecap="round"/>
<text x="344.5" y="372.8" font-size="7" fill="#48a848" stroke="#48a848" stroke-width="0.32" text-anchor="middle">3</text>
<text x="360.5" y="372.8" font-size="7" fill="#48a848" stroke="#48a848" stroke-width="0.32" text-anchor="middle">3</text>
<text x="376.5" y="372.8" font-size="7" fill="#48a848" stroke="#48a848" stroke-width="0.32" text-anchor="middle">3</text>
<text x="392.5" y="372.8" font-size="7" fill="#48a848" stroke="#48a848" stroke-width="0.32" text-anchor="middle">3</text>
<text x="276.8" y="402.7" font-size="14.2" text-anchor="middle" fill="#1a1a1a" textLength="15.4" lengthAdjust="spacingAndGlyphs">(<tspan font-weight="bold">c</tspan>)</text>
</svg>
</body></html>
